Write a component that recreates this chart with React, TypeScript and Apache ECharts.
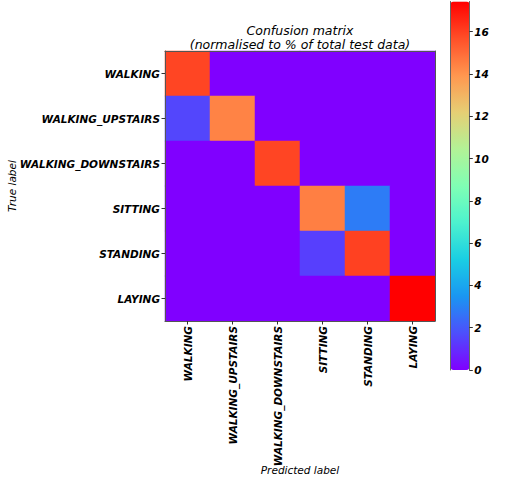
import React, { useEffect, useRef } from "react";
import * as echarts from "echarts";

const categories = [
  "WALKING",
  "WALKING_UPSTAIRS",
  "WALKING_DOWNSTAIRS",
  "SITTING",
  "STANDING",
  "LAYING",
];

// rows = true label, columns = predicted label (% of total test data)
const rowWalking = [15.9, 0, 0, 0, 0, 0];
const rowUpstairs = [1.55, 14.4, 0, 0, 0, 0];
const rowDownstairs = [0, 0, 15.9, 0, 0, 0];
const rowSitting = [0, 0, 0, 14.5, 2.85, 0];
const rowStanding = [0, 0, 0, 1.4, 16.0, 0];
const rowLaying = [0, 0, 0, 0, 0, 17.43];
const matrixRows = [rowWalking, rowUpstairs, rowDownstairs, rowSitting, rowStanding, rowLaying];

const colorbarTicks = [0, 2, 4, 6, 8, 10, 12, 14, 16];

// matplotlib "rainbow" colormap stops
const rainbow = [
  "#8000FF", "#4D4FFC", "#1A96F2", "#1ACEE3", "#4DF2CE", "#80FFB4",
  "#B3F296", "#E6CE74", "#FF964F", "#FF4F28", "#FF0000",
];

const FONT = "DejaVu Sans";

export default function App() {
  const ref = useRef<HTMLDivElement>(null);
  useEffect(() => {
    if (!ref.current) return;
    const chart = echarts.init(ref.current, null, { renderer: "svg" });
    const data: number[][] = [];
    matrixRows.forEach((row, yi) => row.forEach((v, xi) => data.push([xi, yi, v])));
    const vmax = Math.max(...matrixRows.map((r) => Math.max(...r)));

    const tickLabel = {
      color: "#000",
      fontFamily: FONT,
      fontStyle: "italic" as const,
      fontWeight: "bold" as const,
      fontSize: 10.5,
    };
    const heatLeft = 165, heatTop = 51, heatSize = 270;
    const cbLeft = 450.7, cbTop = 1.5, cbW = 18.6, cbH = 368.5;

    chart.setOption({
      animation: false,
      backgroundColor: "#fff",
      graphic: [
        {
          type: "text",
          x: heatLeft + heatSize / 2,
          y: 37.5,
          style: {
            text: "Confusion matrix\n(normalised to % of total test data)",
            fontFamily: FONT,
            fontStyle: "italic",
            fontSize: 12.5,
            lineHeight: 13.5,
            fill: "#000",
            align: "center",
            verticalAlign: "middle",
          },
        },
      ],
      grid: [
        {
          left: heatLeft, top: heatTop, width: heatSize, height: heatSize,
          outerBoundsMode: "none", containLabel: false,
        },
        {
          left: cbLeft, top: cbTop, width: cbW, height: cbH,
          outerBoundsMode: "none", containLabel: false,
        },
      ],
      xAxis: [
        {
          type: "category",
          gridIndex: 0,
          data: categories,
          position: "bottom",
          name: "Predicted label",
          nameLocation: "middle",
          nameGap: 143,
          nameMoveOverlap: false,
          nameTextStyle: { color: "#000", fontFamily: FONT, fontStyle: "italic", fontSize: 10.5 },
          axisLine: { show: true, lineStyle: { color: "#555", width: 1 } },
          axisTick: { show: true, alignWithLabel: true, length: 3.5, lineStyle: { color: "#333" } },
          axisLabel: { ...tickLabel, rotate: 90, margin: 5, interval: 0 },
          splitArea: { show: false },
          splitLine: { show: false },
          z: 5,
        },
        {
          type: "category",
          gridIndex: 0,
          data: categories,
          position: "top",
          axisLine: { show: true, lineStyle: { color: "#555", width: 1 } },
          axisTick: { show: false },
          axisLabel: { show: false },
          z: 5,
        },
        {
          type: "category",
          gridIndex: 1,
          data: ["cb"],
          show: false,
        },
      ],
      yAxis: [
        {
          type: "category",
          gridIndex: 0,
          data: categories,
          inverse: true,
          position: "left",
          name: "True label",
          nameLocation: "middle",
          nameGap: 148,
          nameMoveOverlap: false,
          nameTextStyle: { color: "#000", fontFamily: FONT, fontStyle: "italic", fontSize: 10.5 },
          axisLine: { show: true, lineStyle: { color: "#555", width: 1 } },
          axisTick: { show: true, alignWithLabel: true, length: 3.5, lineStyle: { color: "#333" } },
          axisLabel: { ...tickLabel, margin: 5, interval: 0 },
          splitArea: { show: false },
          splitLine: { show: false },
          z: 5,
        },
        {
          type: "category",
          gridIndex: 0,
          data: categories,
          inverse: true,
          position: "right",
          axisLine: { show: true, lineStyle: { color: "#555", width: 1 } },
          axisTick: { show: false },
          axisLabel: { show: false },
          z: 5,
        },
        {
          type: "value",
          gridIndex: 1,
          min: 0,
          max: vmax,
          position: "right",
          axisLine: { show: true, lineStyle: { color: "#666", width: 1 } },
          axisTick: {
            show: true,
            length: 3.5,
            customValues: colorbarTicks,
            lineStyle: { color: "#333" },
          },
          axisLabel: { ...tickLabel, margin: 5, customValues: colorbarTicks },
          splitLine: { show: false },
          z: 10,
        },
        {
          type: "value",
          gridIndex: 1,
          min: 0,
          max: vmax,
          position: "left",
          axisLine: { show: true, lineStyle: { color: "#666", width: 1 } },
          axisTick: { show: false },
          axisLabel: { show: false },
          splitLine: { show: false },
          z: 10,
        },
      ],
      visualMap: {
        type: "continuous",
        min: 0,
        max: vmax,
        calculable: false,
        show: true,
        seriesIndex: 0,
        orient: "vertical",
        left: cbLeft,
        top: cbTop,
        itemWidth: cbW,
        itemHeight: cbH,
        padding: 0,
        hoverLink: false,
        inRange: { color: rainbow },
      },
      series: [
        {
          type: "heatmap",
          xAxisIndex: 0,
          yAxisIndex: 0,
          data,
          label: { show: false },
          itemStyle: { borderWidth: 0 },
          emphasis: { disabled: true },
        },
      ],
    });
    return () => chart.dispose();
  }, []);
  return (
    <div
      ref={ref}
      style={{ position: "fixed", left: 0, top: 0, width: 524, height: 485, background: "#fff" }}
    />
  );
}
